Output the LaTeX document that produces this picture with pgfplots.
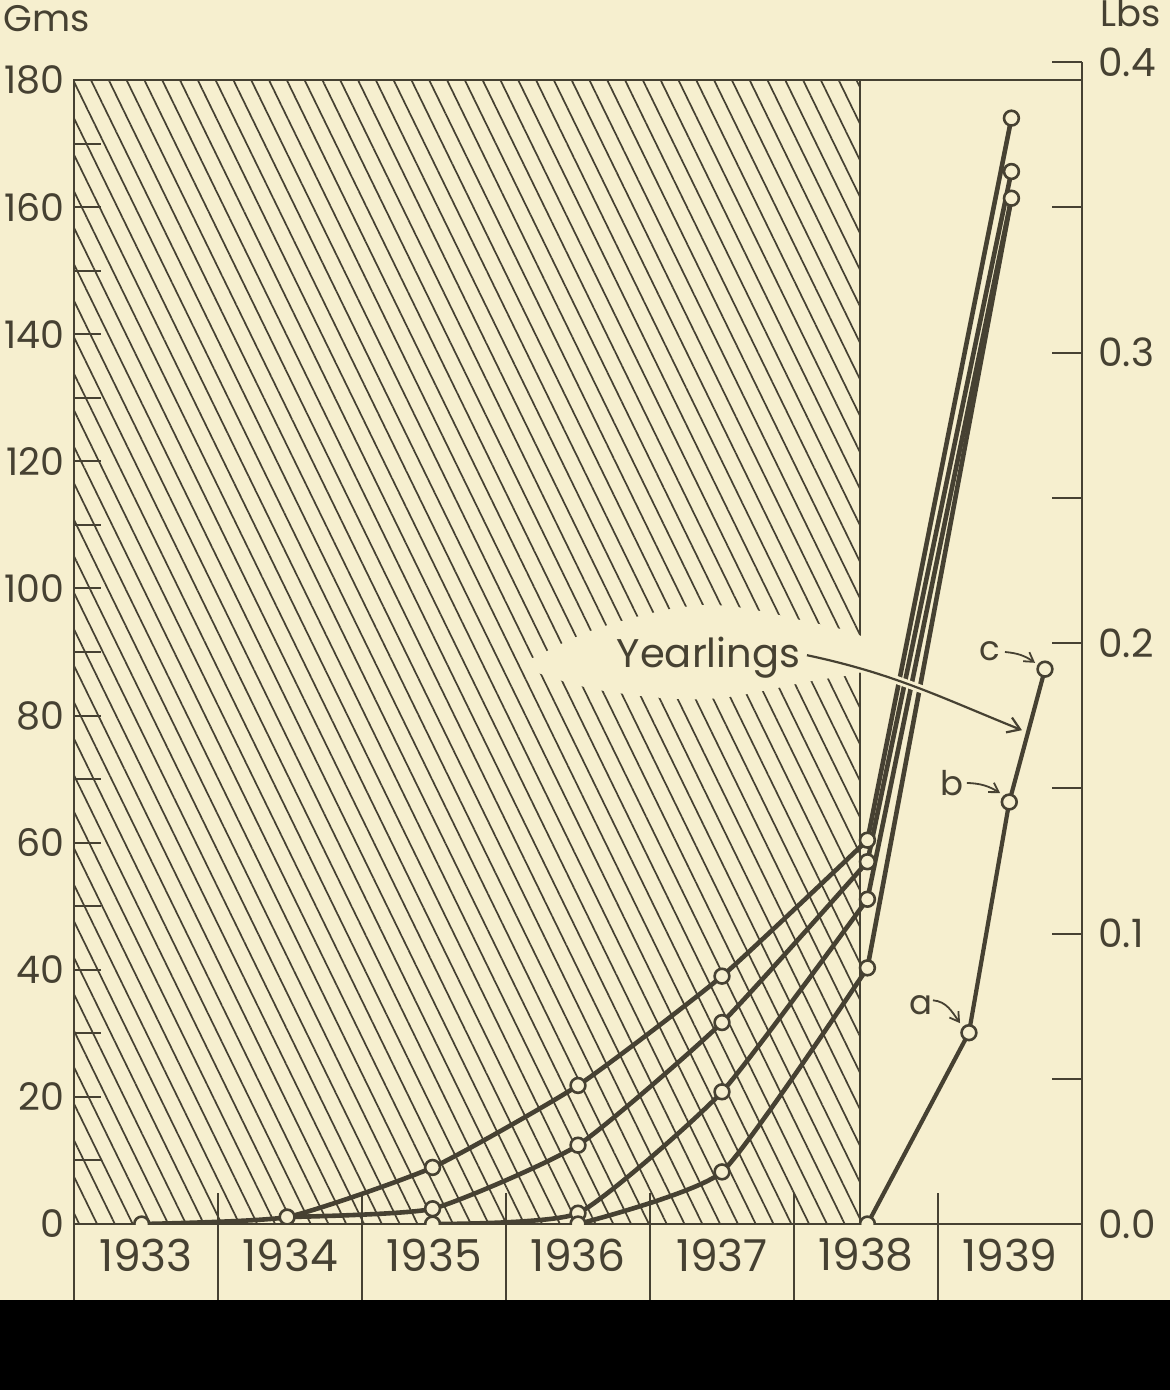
\documentclass[border=0pt]{standalone}
\usepackage{fontspec}
\setmainfont{Poppins}
\usepackage{pgfplots}
\pgfplotsset{compat=1.18}
\usetikzlibrary{patterns.meta,arrows.meta}
\definecolor{bgc}{RGB}{246,239,207}
\definecolor{ink}{RGB}{70,65,50}

\begin{document}
\begin{tikzpicture}
\useasboundingbox (0,0) rectangle (585pt,-695pt);
\fill[bgc] (0,0) rectangle (585pt,-695pt);

% right-hand (Lbs) axis
\begin{axis}[
  at={(37pt,-612pt)}, anchor=south west,
  scale only axis, width=504pt, height=581pt,
  xmin=0, xmax=7, ymin=0, ymax=0.4,
  hide x axis,
  axis y line*=right,
  axis line style={ink, line width=1pt, -},
  ytick={0,0.1,0.2,0.3,0.4},
  minor ytick={0.05,0.15,0.25,0.35},
  tick align=inside,
  major tick length=15pt, minor tick length=15pt,
  tick style={ink, line width=1pt},
  yticklabel style={font=\fontsize{19.5}{20}\selectfont, text=ink, anchor=west, inner sep=0pt, xshift=8pt,
     /pgf/number format/.cd, fixed, fixed zerofill, precision=1},
  /pgf/number format/assume math mode=true,
]
\addplot[draw=none] coordinates {(0,0)};
\end{axis}

% main (Gms) axis
\begin{axis}[
  at={(37pt,-612pt)}, anchor=south west,
  scale only axis, width=504pt, height=572pt,
  xmin=0, xmax=7, ymin=0, ymax=180,
  axis line style={ink, line width=1pt},
  xtick={0.5,1.5,2.5,3.5,4.5,5.5,6.5},
  xticklabels={1933,1934,1935,1936,1937,1938,1939},
  x tick style={draw=none},
  xticklabel style={font=\fontsize{22}{24}\selectfont, text=ink, anchor=center, inner sep=0pt, yshift=-15.5pt},
  ytick={0,20,...,180},
  minor ytick={10,30,...,170},
  ytick pos=left,
  tick align=inside,
  major tick length=13.5pt, minor tick length=13.5pt,
  y tick style={ink, line width=1pt},
  yticklabel style={font=\fontsize{19}{20}\selectfont, text=ink, anchor=east, inner sep=0pt, xshift=-4.5pt},
  /pgf/number format/assume math mode=true,
  clip marker paths=true,
]
% hatched period
\fill[pattern={Lines[angle=-64,distance=8pt,line width=0.85pt]}, pattern color=ink]
  (axis cs:0,0) rectangle (axis cs:5.458,180);
\draw[ink, line width=1pt] (axis cs:5.458,0) -- (axis cs:5.458,180);
\fill[bgc] plot[smooth cycle, tension=0.6] coordinates {
  (axis cs:3.132,88.1) (axis cs:3.236,89.6) (axis cs:3.701,94.2) (axis cs:4.396,97.4)
  (axis cs:5.090,94.8) (axis cs:5.5,92.0) (axis cs:5.5,87.3) (axis cs:5.090,85.3)
  (axis cs:4.396,82.6) (axis cs:3.701,83.8) (axis cs:3.236,86.6)};

% cohort curves
\addplot[ink, line width=2.3pt, smooth, tension=0.3, no marks] coordinates {(0.47,0) (1.48,1.1) (2.49,8.9) (3.5,21.8) (4.5,39.0) (5.51,60.4)};
\addplot[ink, line width=2.3pt, no marks] coordinates {(5.51,60.4) (6.51,174.0)};
\addplot[ink, line width=2.3pt, smooth, tension=0.3, no marks] coordinates {(1.48,1.1) (2.49,2.4) (3.5,12.4) (4.5,31.7) (5.51,57.0)};
\addplot[ink, line width=2.3pt, no marks] coordinates {(5.51,57.0) (6.51,165.6)};
\addplot[ink, line width=2.3pt, smooth, tension=0.3, no marks] coordinates {(2.49,0) (3.5,1.7) (4.5,20.8) (5.51,51.1)};
\addplot[ink, line width=2.3pt, no marks] coordinates {(5.51,51.1) (6.51,161.4)};
\addplot[ink, line width=2.3pt, smooth, tension=0.3, no marks] coordinates {(3.5,0) (4.5,8.2) (5.51,40.3)};
\addplot[ink, line width=2.3pt, no marks] coordinates {(5.51,40.3) (6.51,161.4)};
% yearlings
\addplot[ink, line width=2.1pt, no marks] coordinates {(5.51,0) (6.215,30.1) (6.495,66.4) (6.743,87.3)};

% circles
\addplot[only marks, mark=*, mark size=3.7pt, mark options={draw=ink, fill=bgc, line width=1.3pt}] coordinates {
  (0.47,0) (1.48,1.1) (2.49,8.9) (2.49,2.4) (2.49,0)
  (3.5,21.8) (3.5,12.4) (3.5,1.7) (3.5,0)
  (4.5,39.0) (4.5,31.7) (4.5,20.8) (4.5,8.2)
  (5.51,60.4) (5.51,57.0) (5.51,51.1) (5.51,40.3)
  (6.51,174.0) (6.51,165.6) (6.51,161.4)
  (5.51,0) (6.215,30.1) (6.495,66.4) (6.743,87.3)};

% annotations
\node[font=\fontsize{20}{22}\selectfont, text=ink, anchor=base, inner sep=0pt] at (axis cs:4.406,87.5) {Yearlings};
\draw[bgc, line width=4pt, shorten >=6pt] (axis cs:5.09,89.5) to[out=-12, in=158] (axis cs:6.583,77.7);
\draw[ink, line width=1.1pt, -{Straight Barb[length=6pt,width=8pt,line width=1.1pt]}] (axis cs:5.09,89.5) to[out=-12, in=158] (axis cs:6.583,77.7);

\node[font=\fontsize{17}{18}\selectfont, text=ink, inner sep=0pt] at (axis cs:6.361,90.2) {c};
\draw[ink, line width=0.9pt, -{Straight Barb[length=4.5pt,width=5.5pt]}] (axis cs:6.465,90.0) to[bend left=15] (axis cs:6.674,88.3);
\node[font=\fontsize{17}{18}\selectfont, text=ink, inner sep=0pt] at (axis cs:6.097,69.4) {b};
\draw[ink, line width=0.9pt, -{Straight Barb[length=4.5pt,width=5.5pt]}] (axis cs:6.201,69.4) to[bend left=15] (axis cs:6.431,67.8);
\node[font=\fontsize{17}{18}\selectfont, text=ink, inner sep=0pt] at (axis cs:5.880,34.5) {a};
\draw[ink, line width=0.9pt, -{Straight Barb[length=4.5pt,width=5.5pt]}] (axis cs:5.965,35.2) to[out=-5, in=125] (axis cs:6.153,31.6);
\end{axis}

% year strip below the zero line
\draw[ink, line width=1pt] (37pt,-612pt) -- (37pt,-651pt);
\draw[ink, line width=1pt] (541pt,-612pt) -- (541pt,-651pt);
\foreach \x in {109,181,253,325,397,469} {
  \draw[ink, line width=1pt] (\x pt,-596.5pt) -- (\x pt,-651pt);
}

% unit labels
\node[anchor=base west, inner sep=0pt, font=\fontsize{18.5}{20}\selectfont, text=ink] at (1.5pt,-16pt) {Gms};
\node[anchor=base west, inner sep=0pt, font=\fontsize{18.5}{20}\selectfont, text=ink] at (550pt,-13.5pt) {Lbs};

% dark strip at the foot of the picture
\fill[black] (0,-650pt) rectangle (585pt,-695pt);
\end{tikzpicture}
\end{document}
